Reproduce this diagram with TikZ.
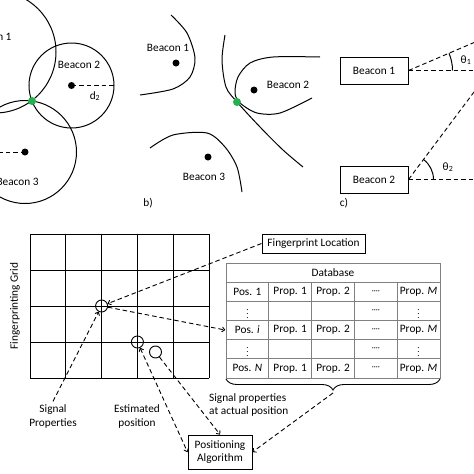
\documentclass[tikz,border=0pt]{standalone}
\usepackage{fontspec}
\setmainfont{Carlito}
\usetikzlibrary{arrows.meta,decorations.pathreplacing}
\definecolor{fixgreen}{RGB}{34,177,76}

\begin{document}
\begin{tikzpicture}[x=1pt,y=-1pt,
  font=\fontsize{11.3}{13.5}\selectfont,
  >={To[length=3.5pt,width=5.5pt]},
  thickline/.style={line width=1pt},
  dashline/.style={line width=0.9pt,dash pattern=on 4.5pt off 3pt},
  dasharrow/.style={dashline,->},
  beaconbox/.style={draw,line width=1pt,minimum width=68pt,minimum height=27pt},
  labelbox/.style={draw,line width=1pt,inner sep=2pt,align=center},
  cell/.style={minimum width=40pt,inner sep=0pt},
  spot/.style={draw,circle,line width=0.9pt,minimum size=12pt,inner sep=0pt}]

\useasboundingbox (0,0) rectangle (474,474);

% a) circles
\coordinate (B1a) at (-5,52);
\coordinate (B2a) at (71.5,85.5);
\coordinate (B3a) at (25,152);

\draw[thickline] (B1a) circle[radius=61];
\draw[thickline] (B2a) circle[radius=42.5];
\draw[thickline] (B3a) circle[radius=51.5];
\fill (B2a) circle (3.5);
\fill (B3a) circle (3.5);
\draw[dashline] (B2a) -- (114,85.5);
\draw[dashline] (B3a) -- (-30,152);
\fill[fixgreen] (32,101) circle (4);

\node[anchor=east] at (15,37) {Beacon 1};
\node at (79,65) {Beacon 2};
\node at (95,96) {d\textsubscript{2}};
\node[anchor=west] at (-7,182) {Beacon 3};

% b) curves
\draw[thickline] plot[smooth] coordinates {(171,15) (187,33) (195,58) (190,77) (173,89) (140,95)};
\draw[thickline] plot[smooth] coordinates {(320,57) (273,57) (250,63) (238,77) (235,93) (240,103) (257,113) (280,113) (312,98)};
\draw[thickline] plot[smooth] coordinates {(225,35) (222,60) (226,87) (237,102) (260,127) (283,150) (303,167)};
\draw[thickline] plot[smooth] coordinates {(150,148) (173,135) (207,133) (225,147) (237,167) (242,192)};
\fill (176,63) circle (3.5);
\fill (254,90) circle (3.5);
\fill (208,157) circle (3.5);
\fill[fixgreen] (237,102) circle (4);

\node at (168,48) {Beacon 1};
\node at (288,85) {Beacon 2};
\node at (204,177) {Beacon 3};
\node at (148,203) {b)};

% c) angles
\node[beaconbox] (bc1) at (374,70.5) {Beacon 1};
\node[beaconbox] (bc2) at (374,179.5) {Beacon 2};
\coordinate (h1) at (480,70.5);
\coordinate (r1) at (480,40);
\coordinate (h2) at (480,179.5);
\coordinate (r2) at (480,84);
\draw[dashline] (bc1.east) -- (h1);
\draw[dashline] (bc1.east) -- (r1);
\draw[dashline] (bc2.east) -- (h2);
\draw[dashline] (bc2.east) -- (r2);
\draw[thickline] (bc1.east) ++(44,0) arc[start angle=0,end angle=-23,radius=44];
\draw[thickline] (bc2.east) ++(25,0) arc[start angle=0,end angle=-53,radius=25];
\node at (466,60) {θ\textsubscript{1}};
\node at (448,167) {θ\textsubscript{2}};
\node at (344,203) {c)};

% fingerprinting grid
\foreach \gx in {30,65.8,101.6,137.4,173.2,209}
  \draw[thickline] (\gx,234) -- (\gx,378);
\foreach \gy in {234,270,306,342,378}
  \draw[thickline] (30,\gy) -- (209,\gy);
\node[rotate=90] at (15,306) {Fingerprinting Grid};

\node[spot] (fpA) at (101.6,306) {};
\node[spot] (est) at (137.4,342) {};
\node[spot] (act) at (155.5,352) {};

% database table
\draw[gray,line width=0.8pt] (226,263) rectangle (440,378);
\foreach \ty in {282,301.2,320.4,339.6,358.8}
  \draw[gray,line width=0.8pt] (226,\ty) -- (440,\ty);
\foreach \tx in {268.8,311.6,354.4,397.2}
  \draw[gray,line width=0.8pt] (\tx,282) -- (\tx,378);
\node at (333,272.5) {Database};

\foreach \ry/\rname/\rlabel in {291.6/pos1/1, 330/posi/{\textit{i}}, 368.4/posN/{\textit{N}}} {
  \node[cell] (\rname) at (247.4,\ry) {Pos. \rlabel};
  \node[cell] at (290.2,\ry) {Prop. 1};
  \node[cell] at (333,\ry) {Prop. 2};
  \node[cell] at (375.8,\ry) {\footnotesize ····};
  \node[cell] at (418.6,\ry) {Prop. \textit{M}};
}
\foreach \ry in {310.8,349.2} {
  \node[inner sep=0pt] at (247.4,\ry) {\small$\vdots$};
  \node[inner sep=0pt] at (375.8,\ry) {\footnotesize ····};
  \node[inner sep=0pt] at (418.6,\ry) {\small$\vdots$};
}

\draw[line width=0.9pt,decorate,decoration={brace,amplitude=11pt}] (440,379) -- (226,379);
\coordinate (btip) at (333,393);

% boxes and labels
\node[labelbox,minimum width=103pt,minimum height=19pt] (fploc) at (313.5,243.5) {Fingerprint Location};
\node[labelbox,minimum width=64pt,minimum height=34pt] (algo) at (220,452) {Positioning\\Algorithm};

\node[align=center] (sigprop) at (53,416.5) {Signal\\Properties};
\node[align=center] (estpos) at (137,416.5) {Estimated\\position};
\node[align=left,anchor=west,inner sep=0pt] (actprop) at (209,405) {Signal properties\\at actual position};

% connectors
\draw[dasharrow] (fploc.west) -- (fpA);
\draw[dasharrow] (fpA) -- ([xshift=-2pt]posi.west);
\draw[dasharrow] (sigprop.north) -- (fpA);
\draw[dashline,<->] (est) -- (algo.west);
\draw[dasharrow] (act) -- (algo.north);
\draw[dasharrow] (btip) -- (algo.east);

\end{tikzpicture}
\end{document}
